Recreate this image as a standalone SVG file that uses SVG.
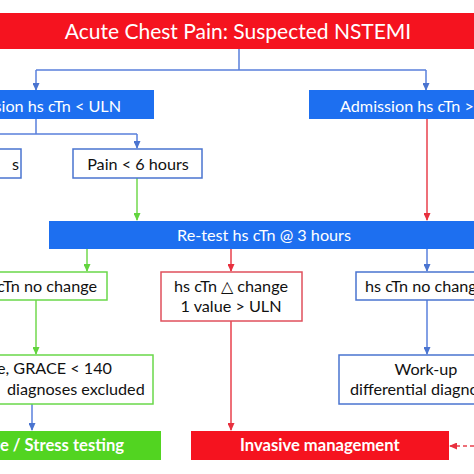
<svg xmlns="http://www.w3.org/2000/svg" width="474" height="474" viewBox="0 0 474 474">
<defs>
<style>
text{font-family:Lato,"Liberation Sans",sans-serif;font-size:16.2px;fill:#111}
.w{fill:#fff}
.b{font-weight:bold;font-size:16.6px}
.bf{fill:#1d6ff0}
.rf{fill:#f5131f}
.gf{fill:#52d421}
.gs{fill:#fff;stroke:#6ad84a;stroke-width:1.5}
.rs{fill:#fff;stroke:#e0505c;stroke-width:1.5}
.bs{fill:#fff;stroke:#4a74d0;stroke-width:1.5}
.lb{stroke:#5a80dc;stroke-width:1.5;fill:none}
.lg{stroke:#72d84e;stroke-width:1.5;fill:none}
.lr{stroke:#e8404c;stroke-width:1.5;fill:none}
</style>
<marker id="ab" markerWidth="8" markerHeight="7" refX="7" refY="3.5" orient="auto" markerUnits="userSpaceOnUse"><path d="M0,0L8,3.5L0,7z" fill="#4a74d0"/></marker>
<marker id="ag" markerWidth="8" markerHeight="7" refX="7" refY="3.5" orient="auto" markerUnits="userSpaceOnUse"><path d="M0,0L8,3.5L0,7z" fill="#62d43e"/></marker>
<marker id="ar" markerWidth="8" markerHeight="7" refX="7" refY="3.5" orient="auto" markerUnits="userSpaceOnUse"><path d="M0,0L8,3.5L0,7z" fill="#e8303e"/></marker>
</defs>
<rect width="474" height="474" fill="#fff"/>
<g id="connectors">
<path class="lb" d="M239,49V70M36,70H426"/>
<path class="lb" d="M36,70V90" marker-end="url(#ab)"/>
<path class="lb" d="M426,70V90" marker-end="url(#ab)"/>
<path class="lb" d="M36,119V134M0,134H137"/>
<path class="lb" d="M137,134V148" marker-end="url(#ab)"/>
<path class="lg" d="M137,178V220" marker-end="url(#ag)"/>
<path class="lr" d="M427,119V220" marker-end="url(#ar)"/>
<path class="lg" d="M87,249V271" marker-end="url(#ag)"/>
<path class="lr" d="M231,249V271" marker-end="url(#ar)"/>
<path class="lb" d="M427,249V271" marker-end="url(#ab)"/>
<path class="lg" d="M36,300V354" marker-end="url(#ag)"/>
<path class="lb" d="M427,300V354" marker-end="url(#ab)"/>
<path class="lb" d="M32,404V430" marker-end="url(#ab)"/>
<path class="lr" d="M231,321V430" marker-end="url(#ar)"/>
<path class="lr" d="M474,446H450" stroke-dasharray="4,3" marker-end="url(#ar)"/>
</g>
<g id="title"><rect class="rf" x="0" y="13" width="474" height="36"/><text class="w" x="238" y="39" text-anchor="middle" style="font-size:21px">Acute Chest Pain: Suspected NSTEMI</text></g>
<g id="adm-low"><rect class="bf" x="-10" y="90" width="164" height="29"/><text class="w" x="121" y="112" text-anchor="end">ssion hs cTn &lt; ULN</text></g>
<g id="adm-high"><rect class="bf" x="309" y="90" width="175" height="29"/><text class="w" x="340" y="112">Admission hs cTn &gt;</text></g>
<g id="pain-long"><rect class="bs" x="-10" y="149" width="31" height="29"/><text x="19" y="170" text-anchor="end">s</text></g>
<g id="pain-short"><rect class="bs" x="73" y="149" width="129" height="29"/><text x="138" y="170" text-anchor="middle">Pain &lt; 6 hours</text></g>
<g id="retest"><rect class="bf" x="49" y="221" width="435" height="28"/><text class="w" x="264" y="241" text-anchor="middle">Re-test hs cTn @ 3 hours</text></g>
<g id="nochange-left"><rect class="gs" x="-10" y="272" width="117" height="28"/><text x="97" y="292" text-anchor="end">cTn no change</text></g>
<g id="change"><rect class="rs" x="161" y="272" width="141" height="49"/><text x="231" y="292" text-anchor="middle">hs cTn △ change</text><text x="231" y="312" text-anchor="middle">1 value &gt; ULN</text></g>
<g id="nochange-right"><rect class="bs" x="356" y="272" width="130" height="28"/><text x="365" y="292">hs cTn no change</text></g>
<g id="grace"><rect class="gs" x="-10" y="355" width="163" height="49"/><text x="112" y="374" text-anchor="end">e, GRACE &lt; 140</text><text x="7" y="395">diagnoses excluded</text></g>
<g id="workup"><rect class="bs" x="339" y="355" width="150" height="49"/><text x="426" y="375" text-anchor="middle">Work-up</text><text x="350" y="395">differential diagnoses</text></g>
<g id="stress"><rect class="gf" x="-10" y="431" width="171" height="29"/><text class="w b" x="124" y="451" text-anchor="end">ge / Stress testing</text></g>
<g id="invasive"><rect class="rf" x="191" y="431" width="258" height="29"/><text class="w b" x="240" y="451">Invasive management</text></g>
</svg>
